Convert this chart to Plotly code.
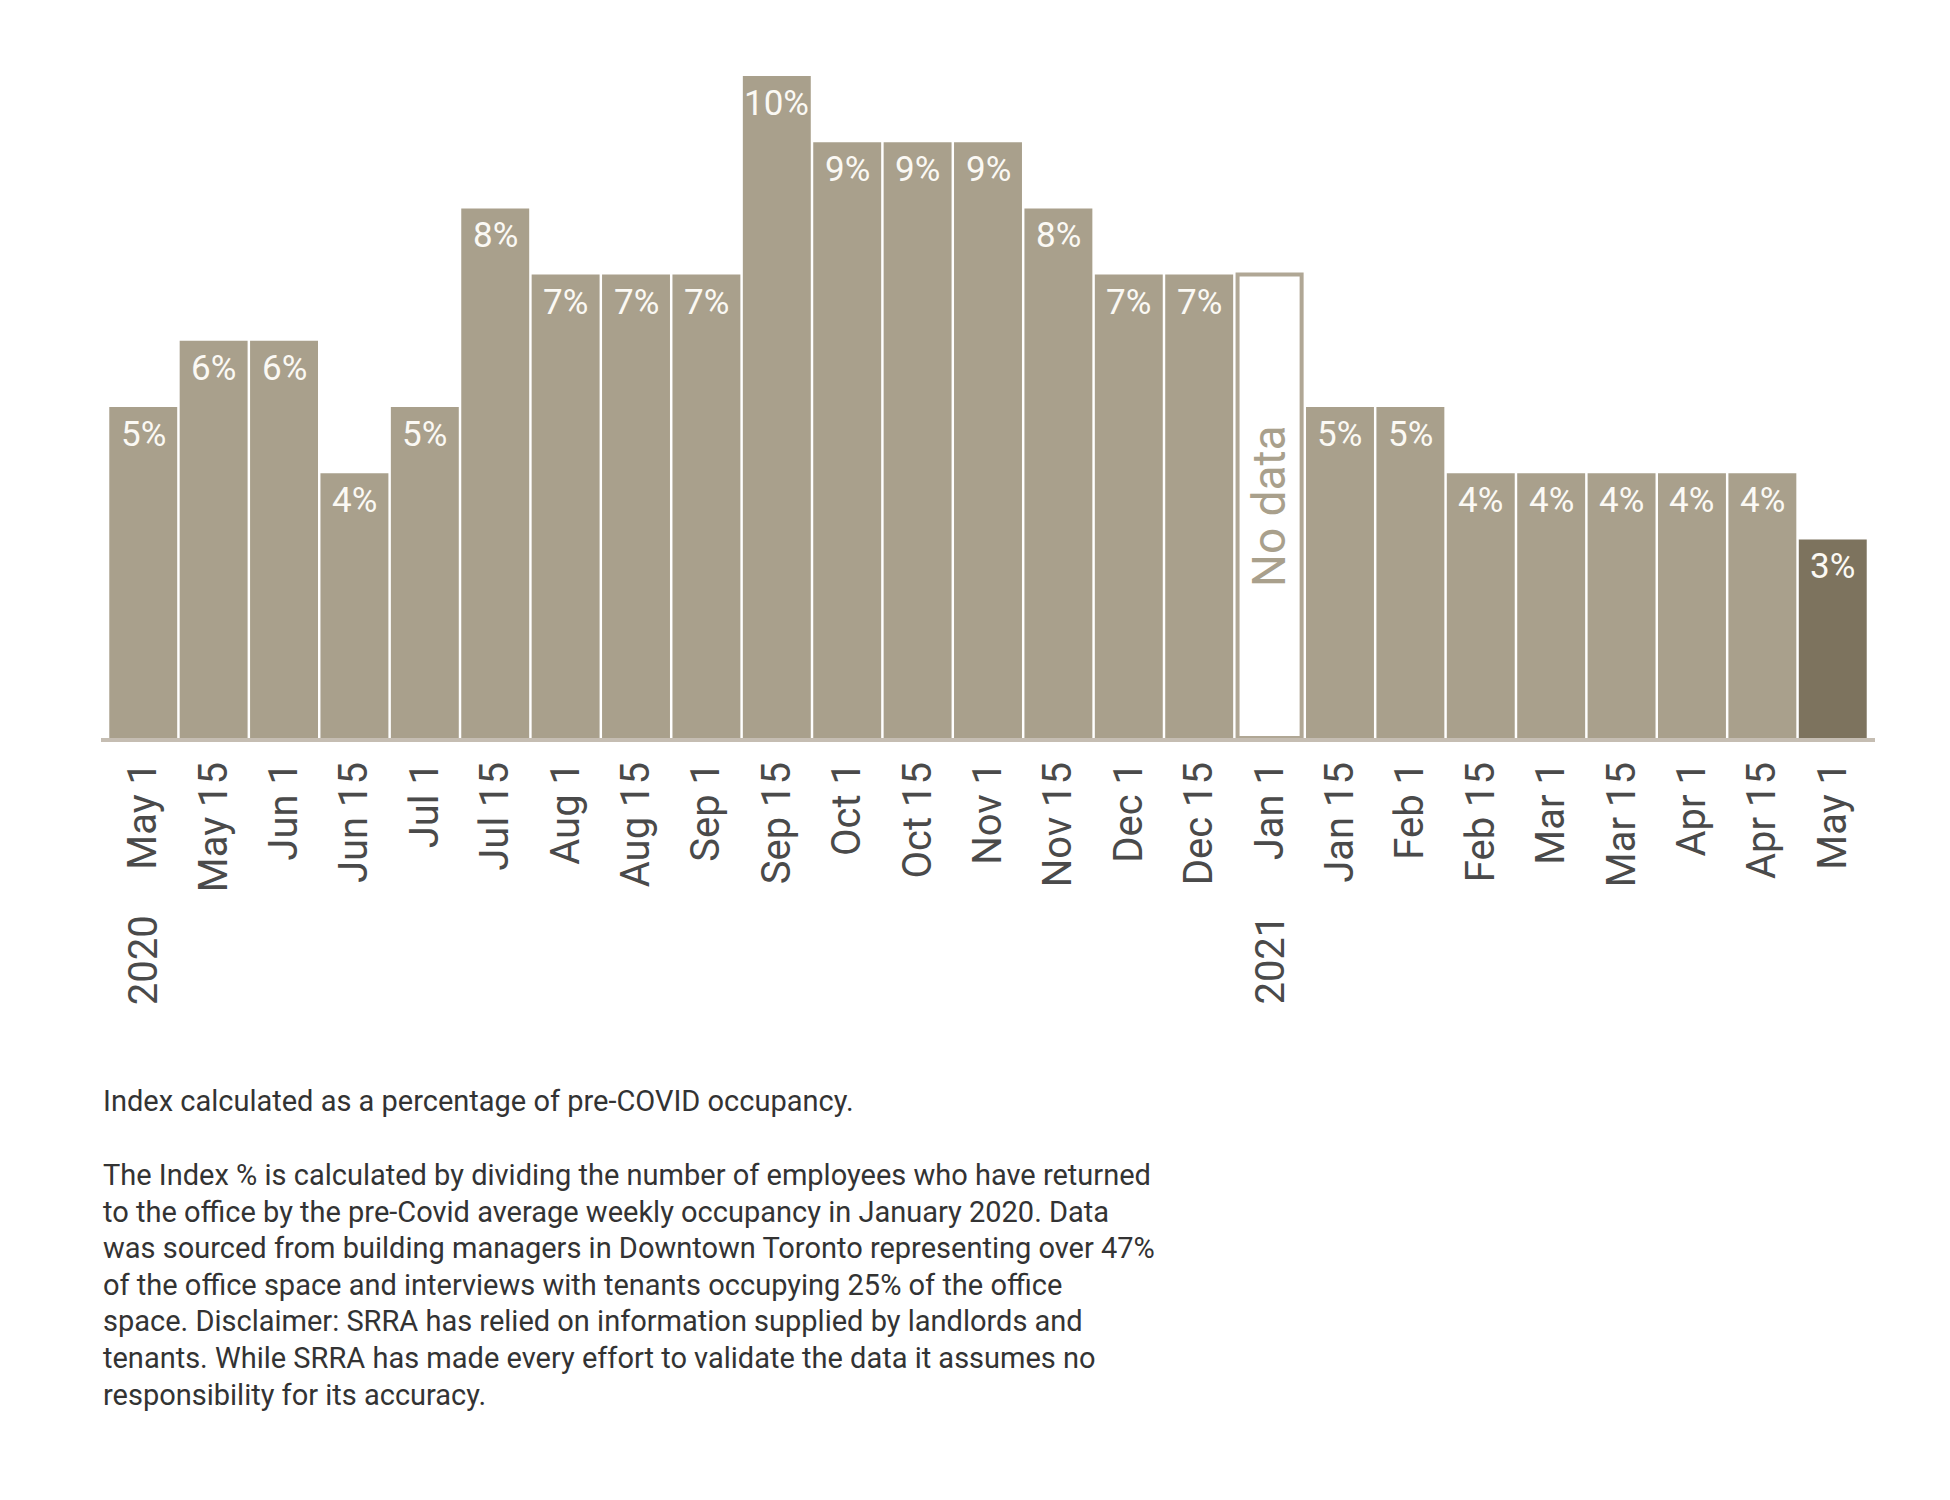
import plotly.graph_objects as go

# Data
dates = ["May 1", "May 15", "Jun 1", "Jun 15", "Jul 1", "Jul 15", "Aug 1", "Aug 15",
         "Sep 1", "Sep 15", "Oct 1", "Oct 15", "Nov 1", "Nov 15", "Dec 1", "Dec 15",
         "Jan 1", "Jan 15", "Feb 1", "Feb 15", "Mar 1", "Mar 15", "Apr 1", "Apr 15", "May 1"]
index_pct = [5, 6, 6, 4, 5, 8, 7, 7, 7, 10, 9, 9, 9, 8, 7, 7,
             None, 5, 5, 4, 4, 4, 4, 4, 3]
no_data_pos = 16          # Jan 1 2021 has no data
no_data_height = 7        # placeholder box height, same as Dec 15
year_labels = {0: "2020", 16: "2021"}

notes_line1 = "Index calculated as a percentage of pre-COVID occupancy."
notes_para = [
    "The Index % is calculated by dividing the number of employees who have returned",
    "to the office by the pre-Covid average weekly occupancy in January 2020. Data",
    "was sourced from building managers in Downtown Toronto representing over 47%",
    "of the office space and interviews with tenants occupying 25% of the office",
    "space. Disclaimer: SRRA has relied on information supplied by landlords and",
    "tenants. While SRRA has made every effort to validate the data it assumes no",
    "responsibility for its accuracy.",
]

LIGHT = "#a9a08c"
DARK = "#7d735e"
TEXT = "#4a4a4a"
FONT = "Roboto"

W, H = 1950, 1500
M_T, M_B = 34, 770
plot_h = H - M_T - M_B


def py(px):
    # pixel row (from top of figure) -> paper fraction
    return (H - M_B - px) / plot_h


x = list(range(len(dates)))
colors = [DARK if i == len(dates) - 1 else LIGHT for i in x]

fig = go.Figure()
fig.add_trace(go.Bar(
    x=x, y=index_pct,
    marker=dict(color=colors, line=dict(width=0)),
    width=0.965,
    hoverinfo="skip",
))
# the empty "No data" box
fig.add_trace(go.Bar(
    x=[no_data_pos], y=[no_data_height],
    marker=dict(color="white", line=dict(color="#b0a795", width=4)),
    width=0.91,
    hoverinfo="skip",
))

# value labels inside the top of each bar
for i, v in zip(x, index_pct):
    if v is None:
        continue
    fig.add_annotation(x=i, y=v, text=f"{v}%", showarrow=False,
                       yanchor="top", yshift=-5,
                       font=dict(family=FONT, size=35, color="#fbf9f4"))

fig.add_annotation(x=no_data_pos, y=no_data_height / 2, text="No data",
                   showarrow=False, textangle=-90,
                   font=dict(family=FONT, size=46, color=LIGHT))

for pos, yr in year_labels.items():
    fig.add_annotation(x=pos, y=py(905), xref="x", yref="paper", text=yr,
                       showarrow=False, textangle=-90, yanchor="top",
                       font=dict(family=FONT, size=40, color=TEXT))

# footnotes
fig.add_annotation(x=0, y=py(1093), xref="paper", yref="paper", text=notes_line1,
                   showarrow=False, xanchor="left", yanchor="middle",
                   font=dict(family=FONT, size=29, color="#333333"))
for k, line in enumerate(notes_para):
    fig.add_annotation(x=0, y=py(1167 + k * 36.6), xref="paper", yref="paper", text=line,
                       showarrow=False, xanchor="left", yanchor="middle",
                       font=dict(family=FONT, size=29, color="#333333"))

fig.update_layout(
    width=W, height=H,
    margin=dict(l=93, r=83, t=M_T, b=M_B),
    paper_bgcolor="white", plot_bgcolor="white",
    showlegend=False, barmode="overlay",
    font=dict(family=FONT),
    xaxis=dict(
        range=[-0.6, 24.6],
        tickmode="array", tickvals=x, ticktext=dates,
        tickangle=-90, ticks="", ticklabelstandoff=4,
        tickfont=dict(family=FONT, size=40, color=TEXT),
        showgrid=False, zeroline=False,
        showline=True, linecolor="#c5bdb2", linewidth=4,
    ),
    yaxis=dict(range=[0, 10.514], visible=False, showgrid=False, zeroline=False),
)

fig.write_html("out.html")
